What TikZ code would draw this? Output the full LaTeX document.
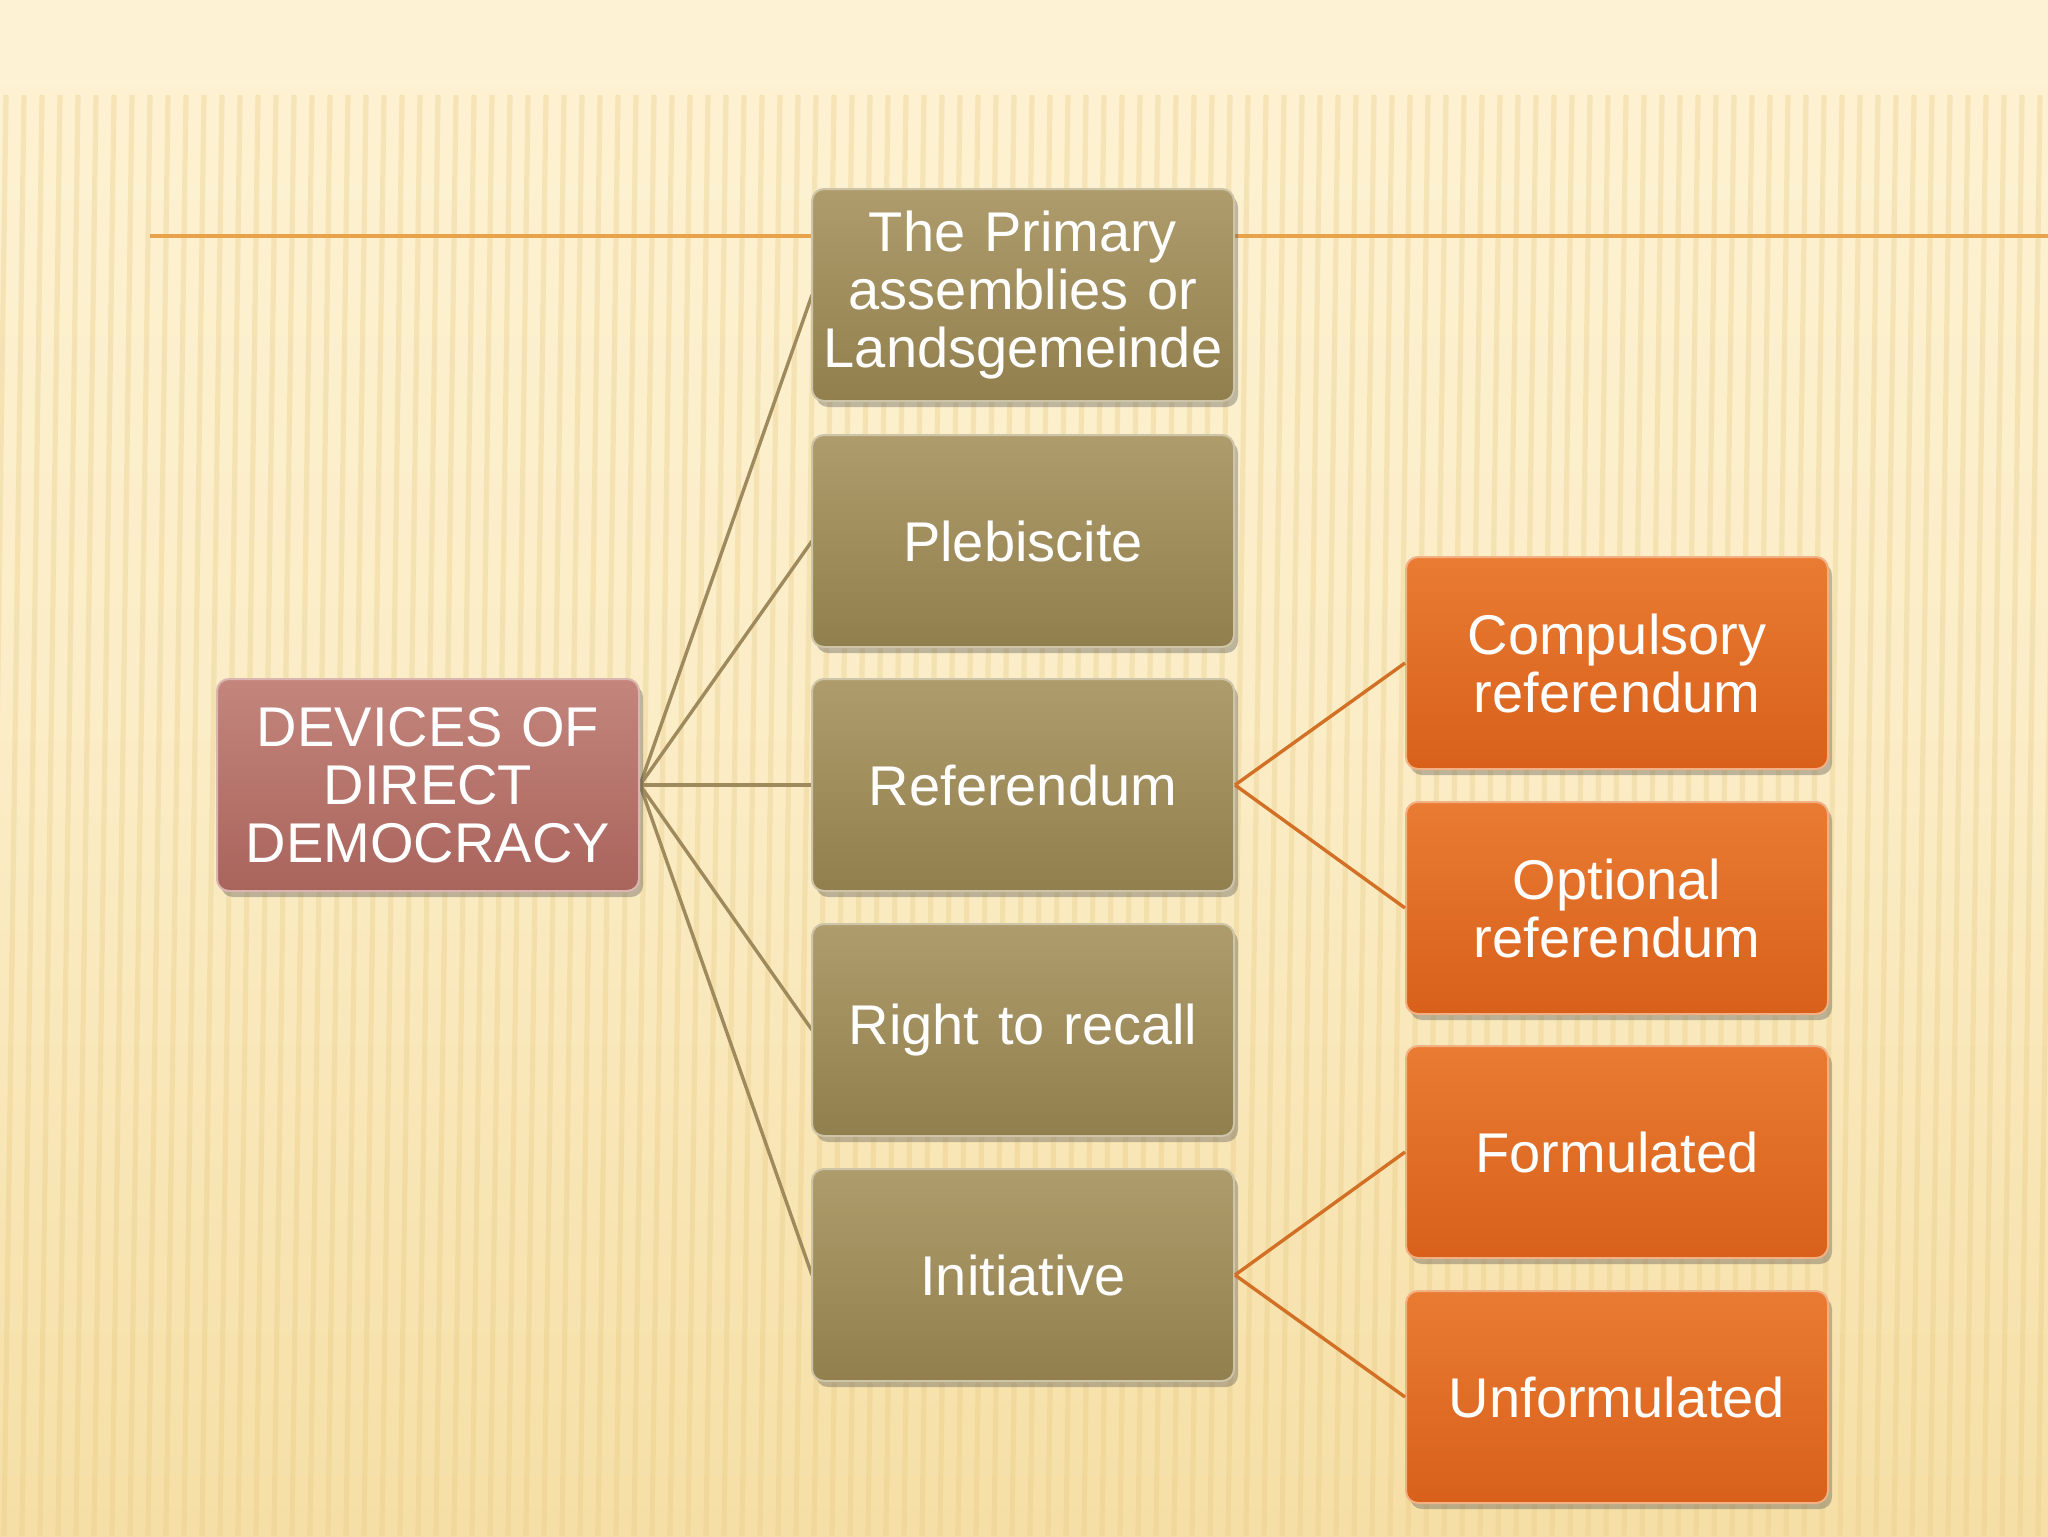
\documentclass[tikz,border=0pt]{standalone}
\usepackage{fontspec}
\setmainfont{Liberation Sans}
\usetikzlibrary{shadows}
\definecolor{bgtop}{HTML}{FDF2D3}
\definecolor{bgbot}{HTML}{F6DFA6}
\definecolor{stripe}{HTML}{E6C77C}
\definecolor{rootA}{HTML}{C3857C}
\definecolor{rootB}{HTML}{A9645C}
\definecolor{oliveA}{HTML}{AE9C6C}
\definecolor{oliveB}{HTML}{927F4E}
\definecolor{orgA}{HTML}{E97B33}
\definecolor{orgB}{HTML}{D8601A}
\definecolor{oliveline}{HTML}{9E8A5C}
\definecolor{orgline}{HTML}{D27025}
\definecolor{topline}{HTML}{E8A24A}
\tikzset{
  boxbase/.style={rounded corners=6pt, minimum width=211pt, minimum height=106pt,
    text width=205pt, align=center, text=white, inner sep=2pt,
    font=\fontsize{28}{29}\selectfont,
    drop shadow={shadow xshift=2pt, shadow yshift=-3pt, opacity=0.35, fill=black!70}},
  rootbox/.style={boxbase, top color=rootA, bottom color=rootB, draw=rootA!60!white, line width=1pt},
  midbox/.style={boxbase, top color=oliveA, bottom color=oliveB, draw=oliveA!60!white, line width=1pt},
  subbox/.style={boxbase, top color=orgA, bottom color=orgB, draw=orgA!60!white, line width=1pt},
  midlink/.style={draw=oliveline, line width=1.7pt},
  sublink/.style={draw=orgline, line width=1.7pt},
}
\begin{document}
\begin{tikzpicture}[x=0.5pt, y=-0.5pt]
\useasboundingbox (0,0) rectangle (2048,1536);
% background
\shade[top color=bgtop, bottom color=bgbot, middle color=bgtop!70!bgbot] (0,0) rectangle (2048,1536);
\fill[bgtop] (0,0) rectangle (2048,85);
\foreach \i in {0,...,116} {
  \draw[stripe, line width=2.6pt, opacity=0.3] (\i*18+6,95) -- (\i*18-14,1536);
}
\draw[topline, line width=1.6pt] (150,236) -- (2048,236);

% connectors
\foreach \m/\y in {m1/295,m2/541,m3/785,m4/1030,m5/1275} {
  \coordinate (\m) at (812,\y);
}
\coordinate (rootE) at (640,785);
\foreach \m in {m1,m2,m3,m4,m5} {
  \path[midlink] (rootE) -- (\m);
}

% nodes
\node[rootbox] (root) at (428,785) {DEVICES OF\\DIRECT\\DEMOCRACY};
\node[midbox] (n1) at (1023,295) {The Primary\\assemblies or\\Landsgemeinde};
\node[midbox] (n2) at (1023,541) {Plebiscite};
\node[midbox] (n3) at (1023,785) {Referendum};
\node[midbox] (n4) at (1023,1030) {Right to recall};
\node[midbox] (n5) at (1023,1275) {Initiative};
\node[subbox] (s1) at (1617,663) {Compulsory\\referendum};
\node[subbox] (s2) at (1617,908) {Optional\\referendum};
\node[subbox] (s3) at (1617,1152) {Formulated};
\node[subbox] (s4) at (1617,1397) {Unformulated};

\path[sublink] (n3.east) -- (s1.west);
\path[sublink] (n3.east) -- (s2.west);
\path[sublink] (n5.east) -- (s3.west);
\path[sublink] (n5.east) -- (s4.west);
\end{tikzpicture}
\end{document}
